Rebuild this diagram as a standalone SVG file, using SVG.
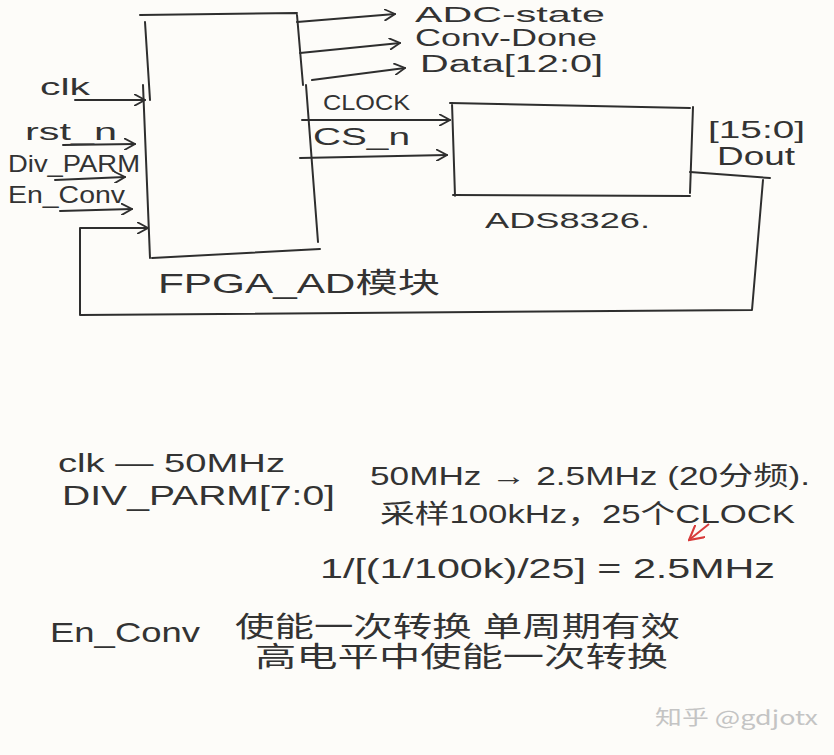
<svg xmlns="http://www.w3.org/2000/svg" width="834" height="755" viewBox="0 0 834 755">
<defs>
<style>
.ln{fill:none;stroke:#2e2e2e;stroke-width:2;stroke-linecap:round;stroke-linejoin:round}
.t{font-family:"Liberation Sans","Noto Sans CJK SC",sans-serif;fill:#333333}
.wm{font-family:"Noto Sans CJK SC","Liberation Sans",sans-serif;fill:#c4c4c4;font-size:20px}
</style>
<marker id="ah" viewBox="0 0 12 12" refX="11" refY="6" markerWidth="12" markerHeight="12" markerUnits="userSpaceOnUse" orient="auto">
<path d="M0,0 L11,6 L0,12" fill="none" stroke="#2e2e2e" stroke-width="1.8"/>
</marker>
<marker id="ahr" viewBox="0 0 12 12" refX="11" refY="6" markerWidth="16" markerHeight="16" markerUnits="userSpaceOnUse" orient="auto">
<path d="M0,0 L11,6 L0,12" fill="none" stroke="#d83a3a" stroke-width="1.6"/>
</marker>
</defs>
<rect width="834" height="755" fill="#fdfcf9"/>

<g id="fpga">
<path class="ln" d="M140,15 L297,13 M145,22 L150,100 M143,85 L150,258 M297,15 L303,85 M306,85 L318,242 M152,258 L320,249"/>
<text class="t" x="158" y="293" font-size="28" textLength="282" lengthAdjust="spacingAndGlyphs">FPGA_AD模块</text>
</g>

<g id="ads8326">
<path class="ln" d="M450,103 L690,108 M452,103 L455,196 M693,107 L690,193 M453,195 L690,196"/>
<text class="t" x="485" y="228" font-size="22" textLength="165" lengthAdjust="spacingAndGlyphs">ADS8326.</text>
</g>

<g id="connectors">
<path class="ln" d="M297,22 L395,14" marker-end="url(#ah)"/>
<path class="ln" d="M300,53 L400,43" marker-end="url(#ah)"/>
<path class="ln" d="M312,80 L405,68" marker-end="url(#ah)"/>
<path class="ln" d="M302,120 L450,120" marker-end="url(#ah)"/>
<path class="ln" d="M300,158 L447,155" marker-end="url(#ah)"/>
<path class="ln" d="M75,100 L145,100" marker-end="url(#ah)"/>
<path class="ln" d="M63,145 L135,144" marker-end="url(#ah)"/>
<path class="ln" d="M55,180 L125,177" marker-end="url(#ah)"/>
<path class="ln" d="M60,211 L132,209" marker-end="url(#ah)"/>
<path class="ln" d="M690,172 L770,178 M763,180 L752,310 L80,315 L80,228 L148,228" marker-end="url(#ah)"/>
</g>

<g id="labels">
<text class="t" x="415" y="22" font-size="22" textLength="190" lengthAdjust="spacingAndGlyphs">ADC-state</text>
<text class="t" x="415" y="46" font-size="23" textLength="182" lengthAdjust="spacingAndGlyphs">Conv-Done</text>
<text class="t" x="420" y="72" font-size="23" textLength="183" lengthAdjust="spacingAndGlyphs">Data[12:0]</text>
<text class="t" x="323" y="110" font-size="22" textLength="87" lengthAdjust="spacingAndGlyphs">CLOCK</text>
<text class="t" x="313" y="145" font-size="24" textLength="97" lengthAdjust="spacingAndGlyphs">CS_n</text>
<text class="t" x="40" y="95" font-size="24" textLength="50" lengthAdjust="spacingAndGlyphs">clk</text>
<text class="t" x="25" y="140" font-size="24" textLength="92" lengthAdjust="spacingAndGlyphs">rst_n</text>
<text class="t" x="8" y="172" font-size="24" textLength="132" lengthAdjust="spacingAndGlyphs">Div_PARM</text>
<text class="t" x="8" y="203" font-size="24" textLength="117" lengthAdjust="spacingAndGlyphs">En_Conv</text>
<text class="t" x="708" y="138" font-size="24" textLength="97" lengthAdjust="spacingAndGlyphs">[15:0]</text>
<text class="t" x="717" y="165" font-size="26" textLength="78" lengthAdjust="spacingAndGlyphs">Dout</text>
</g>

<g id="notes">
<text class="t" x="58" y="472" font-size="26" textLength="227" lengthAdjust="spacingAndGlyphs">clk — 50MHz</text>
<text class="t" x="62" y="505" font-size="28" textLength="273" lengthAdjust="spacingAndGlyphs">DIV_PARM[7:0]</text>
<text class="t" x="370" y="485" font-size="26" textLength="440" lengthAdjust="spacingAndGlyphs">50MHz → 2.5MHz (20分频).</text>
<text class="t" x="380" y="523" font-size="26" textLength="415" lengthAdjust="spacingAndGlyphs">采样100kHz，25个CLOCK</text>
<text class="t" x="320" y="578" font-size="28" textLength="455" lengthAdjust="spacingAndGlyphs">1/[(1/100k)/25] = 2.5MHz</text>
<path d="M709,524 L689,540" fill="none" stroke="#d83a3a" stroke-width="2" marker-end="url(#ahr)"/>
<text class="t" x="50" y="642" font-size="28" textLength="150" lengthAdjust="spacingAndGlyphs">En_Conv</text>
<text class="t" x="235" y="637" font-size="28" textLength="445" lengthAdjust="spacingAndGlyphs">使能一次转换 单周期有效</text>
<text class="t" x="255" y="667" font-size="28" textLength="413" lengthAdjust="spacingAndGlyphs">高电平中使能一次转换</text>
<text class="wm" x="655" y="725" textLength="163" lengthAdjust="spacingAndGlyphs">知乎 @gdjotx</text>
</g>
</svg>
